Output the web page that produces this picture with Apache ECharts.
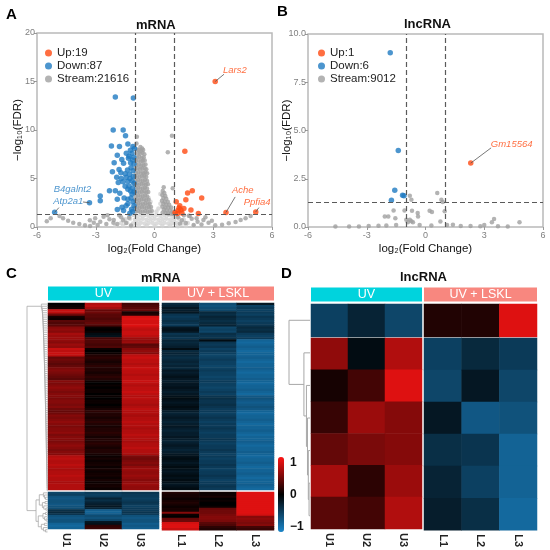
<!DOCTYPE html>
<html><head><meta charset="utf-8">
<script src="https://cdn.jsdelivr.net/npm/echarts@6/dist/echarts.min.js"></script>
<style>html,body{margin:0;padding:0;background:#fff}#c{width:550px;height:550px}</style>
</head><body><div id="c"></div>
<script>
// ---------------- Volcano A (mRNA) ----------------
const upA = [[3.1,15.0],[1.55,7.8],[1.11,2.6],[1.6,2.8],[1.69,3.5],[1.93,3.75],[2.41,3.0],[1.29,2.2],[1.5,1.9],[1.2,1.7],[1.35,1.75],[1.86,1.75],[2.24,1.4],[1.17,1.4],[1.4,1.45],[1.05,1.5],[1.25,1.95],[3.65,1.5],[5.17,1.55]];
const downA = [[-2.0,13.4],[-1.08,13.3],[-2.11,10.0],[-1.6,10.0],[-1.48,9.4],[-2.2,8.35],[-1.79,8.3],[-1.36,8.56],[-1.23,7.9],[-1.02,8.1],[-1.1,8.3],[-1.15,7.6],
 [-1.9,7.4],[-1.44,7.6],[-1.3,7.3],[-1.67,6.97],[-1.33,7.08],[-1.06,7.2],[-1.12,6.9],[-2.06,6.63],[-1.58,6.56],[-1.22,6.63],[-1.05,6.5],[-1.81,5.94],[-2.15,5.7],[-1.38,5.88],[-1.2,6.1],[-1.1,5.8],[-1.72,5.6],[-1.5,5.5],[-1.28,5.45],
 [-1.93,5.12],[-1.7,5.0],[-1.45,5.1],[-1.25,5.0],[-1.08,5.2],[-1.61,4.67],[-1.36,4.7],[-1.15,4.75],[-1.85,4.6],[-1.05,4.5],[-1.5,4.2],[-1.3,4.2],[-1.12,4.0],[-2.3,3.74],[-2.0,3.74],[-1.36,3.88],[-1.22,3.7],[-1.77,3.47],[-1.15,3.4],[-1.05,3.6],
 [-1.9,2.85],[-1.36,2.85],[-1.55,3.0],[-1.2,3.0],[-1.1,2.6],[-2.77,3.2],[-2.77,2.71],[-3.32,2.5],[-1.36,2.4],[-1.66,2.03],[-1.17,1.82],[-1.58,1.7],[-1.26,1.41],[-1.05,2.2],[-1.45,2.2],[-1.12,1.6],[-1.9,1.8],[-5.1,1.51]];
const streamA = [[-0.9,9.3],[-0.92,8.6],[-0.88,8.0],[0.89,9.4],[0.68,7.7],[0.93,4.0],
 [-0.72,8.25],[-0.63,8.1],[-0.8,7.9],[-0.68,7.85],[-0.58,7.95],[-0.85,7.6],[-0.75,7.55],[-0.62,7.65],[-0.52,7.5],[-0.9,7.2],[-0.78,7.25],[-0.66,7.15],[-0.55,7.2],
 [-0.95,6.8],[-0.82,6.85],[-0.7,6.75],[-0.6,6.8],[-0.5,6.85],[-0.92,6.4],[-0.8,6.45],[-0.68,6.35],[-0.56,6.4],[-0.46,6.45],
 [-0.98,6.0],[-0.86,6.05],[-0.74,5.95],[-0.62,6.0],[-0.5,6.05],[-0.42,5.95],[-0.95,5.6],[-0.83,5.65],[-0.7,5.55],[-0.58,5.6],[-0.47,5.65],[-0.38,5.55],
 [-1.0,5.2],[-0.88,5.25],[-0.76,5.15],[-0.64,5.2],[-0.52,5.25],[-0.42,5.15],[-0.96,4.8],[-0.84,4.85],[-0.72,4.75],[-0.6,4.8],[-0.49,4.85],[-0.38,4.75],
 [-1.0,4.4],[-0.9,4.45],[-0.78,4.35],[-0.66,4.4],[-0.55,4.45],[-0.44,4.35],[-0.34,4.4],[-0.95,4.0],[-0.84,4.05],[-0.72,3.95],[-0.6,4.0],[-0.49,4.05],[-0.38,3.95],
 [-1.0,3.6],[-0.88,3.65],[-0.76,3.55],[-0.64,3.6],[-0.53,3.65],[-0.42,3.55],[-0.32,3.6],[-0.96,3.2],[-0.84,3.25],[-0.72,3.15],[-0.6,3.2],[-0.48,3.25],[-0.37,3.15],
 [-1.0,2.8],[-0.9,2.85],[-0.78,2.75],[-0.66,2.8],[-0.54,2.85],[-0.43,2.75],[-0.3,2.8],[-0.95,2.4],[-0.83,2.45],[-0.71,2.35],[-0.59,2.4],[-0.47,2.45],[-0.35,2.35],[-0.25,2.4],
 [-1.0,2.0],[-0.88,2.05],[-0.76,1.95],[-0.64,2.0],[-0.52,2.05],[-0.4,1.95],[-0.28,2.0],[-0.18,2.05],[-0.96,1.6],[-0.84,1.65],[-0.72,1.55],[-0.6,1.6],[-0.48,1.65],[-0.36,1.55],[-0.24,1.6],[-0.14,1.65],
 [0.47,4.1],[0.42,3.7],[0.5,3.5],[0.4,3.3],[0.55,3.2],[0.45,3.0],[0.6,2.9],[0.38,2.7],[0.52,2.6],[0.68,2.6],[0.45,2.4],[0.6,2.3],[0.75,2.3],[0.4,2.1],[0.55,2.0],[0.7,2.0],[0.85,2.0],
 [0.48,1.8],[0.62,1.7],[0.78,1.7],[0.92,1.6],[0.42,1.5],[0.56,1.45],[0.7,1.4],[0.84,1.4],[0.96,1.35],
 [-4.85,1.13],[-4.67,0.9],[-4.41,0.65],[-4.15,0.45],[-3.84,0.31],[-3.55,0.17],[-3.29,0.1],[-5.3,0.9],[-5.5,0.6],
 [-3.03,0.9],[-2.77,0.55],[-2.46,0.3],[-2.08,0.72],[-3.3,0.7],[-2.6,1.05],[-2.3,0.8],[-2.1,0.45],[-1.9,0.3],[-1.7,1.0],[-1.6,0.7],[-1.45,0.4],[-1.3,0.95],[-1.2,0.15],[-2.9,0.2],[-3.1,0.45],[-1.8,1.2],[-2.4,1.2],
 [1.2,1.0],[1.4,0.7],[1.6,0.4],[1.9,0.85],[2.2,0.55],[2.4,0.25],[1.5,1.2],[2.6,1.0],[2.0,0.2],[1.75,1.15],[2.15,0.9],[1.3,0.35],
 [4.91,1.13],[4.65,0.9],[4.4,0.72],[4.14,0.52],[3.79,0.38],[3.45,0.24],[3.1,0.17],[2.76,0.45],[2.5,0.72],[2.93,0.65],[1.8,1.13]];
const streamAFaint = [[-1.3,1.2],[-1.1,1.25],[-0.9,1.15],[-0.7,1.2],[-0.5,1.25],[-0.3,1.15],[-0.1,1.2],[0.1,1.25],[0.3,1.15],[0.5,1.2],[0.7,1.25],[0.9,1.15],[1.1,1.2],
 [-1.5,0.8],[-1.25,0.85],[-1.0,0.75],[-0.8,0.8],[-0.6,0.85],[-0.4,0.75],[-0.2,0.8],[0.0,0.85],[0.2,0.75],[0.4,0.8],[0.6,0.85],[0.8,0.75],[1.0,0.8],[1.25,0.85],[1.5,0.75],
 [-1.7,0.4],[-1.4,0.45],[-1.1,0.35],[-0.9,0.4],[-0.7,0.45],[-0.5,0.35],[-0.3,0.4],[-0.1,0.45],[0.1,0.35],[0.3,0.4],[0.5,0.45],[0.7,0.35],[0.9,0.4],[1.1,0.45],[1.4,0.35],[1.7,0.4],
 [-2.0,0.1],[-1.6,0.12],[-1.2,0.08],[-0.8,0.1],[-0.4,0.12],[0.0,0.08],[0.4,0.1],[0.8,0.12],[1.2,0.08],[1.6,0.1],[2.0,0.12],
 [-0.3,3.0],[-0.2,2.6],[0.3,3.4],[0.3,2.4],[0.2,1.9],[0.1,1.6],[-0.6,7.0],[-0.7,6.2],[-0.55,5.4]];
const genesA = ['Lars2','Ache','Ppfia4','B4galnt2','Atp2a1'];
const geneGroupA = ['up','up','up','down','down'];
const geneTextA = [[4.1,16.1],[4.51,3.81],[5.24,2.55],[-4.19,3.89],[-4.4,2.61]];
const geneLinkA = [[[3.1,15.0],[3.55,15.75]],[[3.65,1.5],[4.12,3.1]],[[5.17,1.55],[5.33,2.0]],[[-5.1,1.51],[-4.88,2.0]],[[-3.32,2.5],[-3.65,2.58]]];
const legendA = ['Up:19','Down:87','Stream:21616'];

// ---------------- Volcano B (lncRNA) ----------------
const upB = [[2.31,3.31]];
const downB = [[-1.8,9.03],[-1.39,3.97],[-1.57,1.9],[-1.74,1.38],[-1.17,1.64],[-1.1,1.62]];
const streamB = [[-0.8,1.62],[-0.72,1.41],[0.6,1.76],[0.81,1.41],[0.88,1.3],[-1.63,0.86],[-1.07,0.86],[-0.69,0.84],[-2.08,0.55],[-1.9,0.55],[-1.54,0.45],[-0.98,0.38],[-0.8,0.38],[-0.72,0.3],
 [-0.38,0.55],[-0.4,0.72],[0.21,0.84],[0.33,0.78],[0.98,0.81],[0.76,0.29],[-0.9,0.25],[-0.64,0.25],[3.39,0.24],[3.5,0.41],[4.8,0.24],
 [-4.6,0.03],[-3.9,0.03],[-3.4,0.03],[-2.9,0.05],[-2.4,0.07],[-2.0,0.08],[-1.5,0.1],[-0.3,0.1],[0.3,0.08],[1.1,0.1],[1.4,0.12],[1.8,0.05],[2.3,0.05],[2.8,0.04],[3.7,0.04],[4.2,0.03],[3.0,0.1]];
const genesB = ['Gm15564'];
const geneGroupB = ['up'];
const geneTextB = [[4.4,4.3]];
const geneLinkB = [[[2.31,3.31],[3.35,4.1]]];
const legendB = ['Up:1','Down:6','Stream:9012'];

// ---------------- Heatmap C (mRNA) ----------------
const samplesU = ['U1','U2','U3'];
const samplesL = ['L1','L2','L3'];
const groupNames = ['UV','UV + LSKL'];
const mTopU1 = [0.0,0.05,0.1,0.9,0.85,0.5,0.1,0.05,0.4,0.35,0.4,0.6,0.65,0.6,0.75,0.7,0.7,0.65,0.6,0.7,0.65,0.9,0.85,0.9,0.85,0.45,0.5,0.45,0.4,0.45,0.55,0.6,0.55,0.5,0.45,0.4,
 0.6,0.55,0.6,0.65,0.6,0.55,0.6,0.6,0.55,0.6,0.6,0.55,0.6,0.5,0.45,0.5,
 0.6,0.55,0.6,0.65,0.6,0.55,0.6,0.6,0.65,0.55,0.6,0.6,0.55,0.6,0.65,0.6,0.55,0.6,0.6,
 0.8,0.85,0.8,0.8,0.85,0.8,0.75,0.8,0.8,0.85,0.8,0.8,0.75,0.8,0.8,0.8];
const mTopU2 = [0.8,0.85,0.75,0.45,0.5,0.4,0.4,0.35,0.4,0.45,0.35,0.05,0.0,0.05,-0.1,-0.15,0.3,0.35,0.35,0.3,0.35,0.05,0.0,0.05,
 0.15,0.2,0.15,0.1,0.15,0.2,0.15,0.15,0.1,0.15,0.2,0.15,0.05,0.0,0.05,0.0,0.05,0.05,0.0,0.05,0.0,0.05,0.05,0.0,0.05,0.1,
 0.2,0.15,0.15,0.1,0.15,0.2,0.15,0.1,0.15,0.15,0.2,0.15,0.1,0.15,0.15,0.2,0.15,0.1,0.15,0.15,0.1,
 0.05,0.1,0.05,0.08,0.1,0.05,0.1,0.05,0.08,0.1,0.05,0.1,0.05,0.08,0.1,0.05];
const mTopU3 = [0.3,0.35,0.4,0.45,0.1,0.15,0.95,1.0,0.95,0.95,1.0,0.9,0.85,0.9,0.9,0.85,0.7,0.65,0.7,0.4,0.45,0.6,0.65,0.6,
 0.85,0.9,0.85,0.85,0.8,0.85,0.9,0.85,0.85,0.8,0.85,0.85,0.9,0.85,0.8,0.85,0.85,0.9,0.85,
 0.8,0.85,0.8,0.8,0.75,0.8,0.85,0.8,0.8,0.75,0.8,0.8,0.85,0.8,0.8,0.75,0.8,0.8,0.85,0.8,0.8,0.75,0.8,0.8,0.85,0.8,0.8,0.75,
 0.55,0.5,0.55,0.6,0.55,0.65,0.7,0.65,0.65,0.7,0.65,0.6,0.65,0.7,0.65,0.65];
const mTopL1 = [-0.35,-0.3,-0.2,-0.25,-0.2,-0.45,-0.5,-0.45,-0.4,-0.45,-0.5,-0.2,-0.15,-0.2,-0.45,-0.4,-0.45,-0.3,-0.35,-0.3,-0.25,-0.1,
 -0.35,-0.3,-0.35,-0.4,-0.35,-0.3,-0.35,-0.3,-0.35,-0.2,-0.25,-0.2,-0.15,-0.2,-0.25,-0.2,-0.2,-0.15,-0.2,-0.25,-0.2,
 -0.15,-0.1,-0.15,-0.2,-0.15,-0.1,-0.15,
 -0.25,-0.3,-0.25,-0.2,-0.25,-0.3,-0.25,-0.2,-0.25,-0.3,-0.25,-0.25,-0.2,-0.25,-0.3,-0.25,-0.2,-0.25,-0.3,-0.25,-0.2,
 -0.15,-0.1,-0.15,-0.2,-0.15,-0.1,-0.15,-0.2,-0.15,-0.1,-0.15,-0.1,-0.15,-0.2,-0.15,-0.1];
const mTopL2 = [-0.65,-0.7,-0.65,-0.6,-0.35,-0.4,-0.3,-0.35,-0.4,-0.35,-0.3,-0.6,-0.55,-0.6,-0.4,-0.45,-0.4,-0.1,-0.45,-0.5,-0.45,
 -0.55,-0.5,-0.55,-0.6,-0.55,-0.5,-0.55,-0.55,-0.6,-0.55,-0.5,-0.55,-0.55,-0.6,-0.55,-0.5,-0.55,-0.55,-0.6,-0.55,-0.5,-0.55,
 -0.45,-0.4,-0.45,-0.45,-0.4,-0.45,-0.5,
 -0.5,-0.55,-0.5,-0.45,-0.5,-0.55,-0.5,-0.5,-0.45,-0.5,-0.55,-0.5,-0.5,-0.45,-0.5,-0.55,-0.5,-0.5,-0.45,-0.5,-0.55,
 -0.5,-0.55,-0.5,-0.5,-0.45,-0.5,-0.55,-0.5,-0.5,-0.45,-0.5,-0.55,-0.5,-0.5,-0.45,-0.5];
const mTopL3 = [-0.2,-0.55,-0.5,-0.55,-0.5,-0.55,-0.45,-0.5,-0.55,-0.5,-0.45,-0.35,-0.4,-0.35,-0.5,-0.55,-0.5,
 -0.85,-0.9,-0.85,-0.8,-0.85,-0.9,-0.85,-0.85,-0.8,-0.85,-0.9,-0.85,-0.85,-0.8,-0.85,-0.9,-0.85,-0.85,-0.8,-0.85,-0.9,-0.85,-0.85,-0.8,-0.85,-0.9,
 -0.75,-0.7,-0.75,-0.8,-0.75,-0.7,-0.75,
 -0.85,-0.9,-0.85,-0.85,-0.8,-0.85,-0.9,-0.85,-0.85,-0.8,-0.85,-0.9,-0.85,-0.85,-0.8,-0.85,-0.9,-0.85,-0.85,-0.8,-0.85,-0.9,-0.85,-0.85,-0.8,-0.85,-0.9,-0.85,-0.85,-0.8,-0.85,-0.9,-0.85,-0.85,-0.8,-0.85,-0.9];
const mBotU1 = [-0.6,-0.55,-0.7,-0.75,-0.7,-0.7,-0.75,-0.7,-0.65,-0.4,-0.35,-0.45,-0.7,-0.75,-0.7,-0.7,-0.85,-0.9,-0.85];
const mBotU2 = [-0.5,-0.55,-0.5,-0.3,-0.4,-0.3,-0.25,-0.2,-0.3,-0.8,-0.85,-0.75,-0.65,-0.7,-0.6,-0.2,-0.15,0.2,0.25];
const mBotU3 = [-0.45,-0.5,-0.5,-0.55,-0.5,-0.45,-0.5,-0.55,-0.5,-0.5,-0.45,-0.5,-0.7,-0.75,-0.7,-0.7,-0.8,-0.75,-0.8];
const mBotL1 = [0.15,0.1,0.1,0.05,0.1,0.15,0.1,0.05,0.1,0.1,0.6,0.05,0.0,0.45,0.5,0.95,1.0,1.0,0.9];
const mBotL2 = [0.05,0.05,0.1,0.0,0.05,0.0,0.0,0.05,0.45,0.5,0.5,0.55,0.6,0.6,0.55,0.4,0.35,0.2,0.15];
const mBotL3 = [1.0,1.0,1.0,1.0,1.0,1.0,1.0,1.0,1.0,1.0,1.0,0.95,0.6,0.65,0.6,0.55,0.6,0.3,0.25];
// dendrogram C: caterpillar merge heights for the top cluster + nested bottom cluster
const chainHeightsC = [3.0,2.7,2.55,2.45,2.4,2.32,2.25,2.2,2.16,2.1,2.05,2.0,1.97,1.93,1.9,1.86,1.82,1.8,1.76,1.72,
 1.7,1.66,1.62,1.6,1.57,1.53,1.5,1.47,1.44,1.42,1.39,1.36,1.33,1.3,1.28,1.25,1.22,1.2,1.17,1.14,
 1.12,1.09,1.07,1.04,1.02,0.99,0.97,0.95,0.92,0.9,0.88,0.85,0.83,0.81,0.79,0.76,0.74,0.72,0.7,0.68,
 0.66,0.64,0.62,0.6,0.58,0.56,0.54,0.52,0.5,0.48,0.46,0.44,0.42,0.4,0.38,0.36,0.34,0.32,0.3,0.28,0.26,0.24,0.22,0.2,0.18,0.15];
const bottomTreeC = [5.6,[4.0,[2.0,87,[1.5,88,[1.0,89,90]]],[2.5,[1.2,91,92],[1.8,93,[0.8,94,95]]]],[4.5,[2.2,[1.0,96,97],[1.4,98,[0.7,99,100]]],[3.0,[1.5,101,102],[2.0,103,[1.0,104,105]]]]];
const rootHeightC = 10;

// ---------------- Heatmap D (lncRNA) ----------------
const lncTopU = [-0.55,-0.3,-0.6];
const lncTopL = [0.15,0.15,1.0];
const lncU1 = [0.65,0.1,0.25,0.45,0.75,0.4];
const lncU2 = [-0.1,0.3,0.7,0.55,0.2,0.3];
const lncU3 = [0.8,1.0,0.6,0.6,0.7,0.8];
const lncL1 = [-0.55,-0.6,-0.2,-0.4,-0.3,-0.25];
const lncL2 = [-0.35,-0.2,-0.75,-0.45,-0.55,-0.4];
const lncL3 = [-0.5,-0.6,-0.7,-0.85,-0.85,-0.9];
const treeD = [10,0,[2.9,1,[1.7,2,[1.2,3,[0.8,4,[0.45,5,6]]]]]];
const colorTicks = [-1,0,1];

// ---------------- helpers ----------------
const FONT = 'Liberation Sans, Arial, sans-serif';
const C_UP = '#FF4A12', C_DOWN = '#1F7BC2', C_GRAY = '#a0a0a0', C_FAINT = '#d3d3d3';
function cells(cols){ const d=[]; cols.forEach((col,c)=>col.forEach((v,r)=>d.push([c,r,v]))); return d; }
function chain(leaves, heights){ let n = leaves[leaves.length-1]; for(let k=leaves.length-2;k>=0;k--) n=[heights[Math.min(k,heights.length-1)], leaves[k], n]; return n; }
function dendro(node, segs){
  if (typeof node === 'number') return {y:node, h:0};
  const a = dendro(node[1], segs), b = dendro(node[2], segs), h = node[0];
  segs.push({coords:[[a.h,a.y],[h,a.y],[h,b.y],[b.h,b.y]]});
  return {y:(a.y+b.y)/2, h:h};
}
function textW(t, font){ const c=document.createElement('canvas').getContext('2d'); c.font=font; return c.measureText(t).width; }

const topLeavesC = mTopU1.map((_,i)=>i);
const treeC = [rootHeightC, chain(topLeavesC, chainHeightsC), bottomTreeC];
const segsC = []; dendro(treeC, segsC);
const segsD = []; dendro(treeD, segsD);
const nRowsC = mTopU1.length + mBotU1.length;

// ---------------- layout ----------------
const grids = [
  {left:37, top:33, width:235, height:194},   //0 A
  {left:308, top:34, width:235, height:193},  //1 B
  {left:48, top:303, width:111, height:187},  //2 C TL
  {left:162, top:303, width:112, height:187}, //3 C TR
  {left:48, top:492, width:111, height:41},   //4 C BL
  {left:162, top:492, width:112, height:41},  //5 C BR
  {left:311, top:304, width:111, height:33},  //6 D TL
  {left:424, top:304, width:113, height:33},  //7 D TR
  {left:311, top:338, width:111, height:194}, //8 D BL
  {left:424, top:338, width:113, height:194}, //9 D BR
  {left:27, top:303, width:20.5, height:230}, //10 C dendro
  {left:289, top:304, width:21, height:228},  //11 D dendro
  {left:278, top:463, width:6, height:64}     //12 colorbar labels
];
grids[0].show = grids[1].show = true;
grids[0].borderColor = grids[1].borderColor = '#b9b9b9';
grids[0].borderWidth = grids[1].borderWidth = 1.5;

const hidden = {axisLine:{show:false, onZero:false}, axisTick:{show:false}, axisLabel:{show:false}, splitLine:{show:false}};
function volX(gi){ return {type:'value', gridIndex:gi, min:-6, max:6, interval:3, splitLine:{show:false}, axisLine:{show:false, onZero:false},
  axisTick:{show:true, length:3, lineStyle:{color:'#9a9a9a'}}, axisLabel:{color:'#808080', fontSize:9, margin:4},
  name:'log\u2082(Fold Change)', nameLocation:'middle', nameGap:16, nameMoveOverlap:false, nameTextStyle:{fontSize:11.5, color:'#111'}}; }
function volY(gi, max, interval, fmt, gap){ return {type:'value', gridIndex:gi, min:0, max:max, interval:interval, splitLine:{show:false}, axisLine:{show:false, onZero:false},
  axisTick:{show:true, length:3, lineStyle:{color:'#9a9a9a'}}, axisLabel:{color:'#808080', fontSize:9, margin:2, formatter:fmt},
  name:'\u2212log\u2081\u2080(FDR)', nameLocation:'middle', nameGap:gap, nameRotate:90, nameMoveOverlap:false, nameTextStyle:{fontSize:11.5, color:'#111'}}; }
function catX(gi, data, showLabels){ return Object.assign({type:'category', gridIndex:gi, data:data}, hidden,
  showLabels ? {axisLabel:{show:true, rotate:-90, margin:4, fontSize:11, fontWeight:'bold', color:'#222'}} : {}); }
function catY(gi, n){ return Object.assign({type:'category', gridIndex:gi, inverse:true, data:Array.from({length:n},(_, i)=>String(i))}, hidden); }
function annX(gi, name, color, w){ return {type:'category', gridIndex:gi, position:'top', data:[name], axisLine:{show:false}, axisTick:{show:false}, splitLine:{show:false},
  axisLabel:{show:true, interval:0, margin:2, formatter:v=>'{a|'+v+'}', rich:{a:{width:w, height:14, lineHeight:15, backgroundColor:color, color:'#fff', align:'center', verticalAlign:'middle', fontSize:12.5, fontFamily:FONT}}}}; }

const xAxis = [
  volX(0), volX(1),
  catX(2,samplesU,false), catX(3,samplesL,false), catX(4,samplesU,true), catX(5,samplesL,true),
  catX(6,samplesU,false), catX(7,samplesL,false), catX(8,samplesU,true), catX(9,samplesL,true),
  Object.assign({type:'value', gridIndex:10, min:0, max:rootHeightC, inverse:true}, hidden),
  Object.assign({type:'value', gridIndex:11, min:0, max:10, inverse:true}, hidden),
  Object.assign({type:'value', gridIndex:12, min:0, max:1}, hidden),
  annX(2, groupNames[0], '#00D3DD', 111), annX(3, groupNames[1], '#F8877F', 112),
  annX(6, groupNames[0], '#00D3DD', 111), annX(7, groupNames[1], '#F8877F', 113)
];
const yAxis = [
  volY(0, 20, 5, v=>String(v), 13), volY(1, 10, 2.5, v=>v.toFixed(1), 15),
  catY(2, mTopU1.length), catY(3, mTopU1.length), catY(4, mBotU1.length), catY(5, mBotU1.length),
  catY(6, 1), catY(7, 1), catY(8, lncU1.length), catY(9, lncU1.length),
  Object.assign({type:'value', gridIndex:10, min:-0.5, max:nRowsC-0.5, inverse:true}, hidden),
  Object.assign({type:'value', gridIndex:11, min:-0.5, max:lncU1.length+0.5, inverse:true}, hidden),
  {type:'value', gridIndex:12, min:-1, max:1, interval:1, position:'right', axisLine:{show:false, onZero:false}, axisTick:{show:false}, splitLine:{show:false},
   axisLabel:{show:true, margin:6, fontSize:12, fontWeight:'bold', color:'#111', formatter:v=>colorTicks.indexOf(v)>=0 ? (v<0?'\u2212'+Math.abs(v):String(v)) : ''}}
];

const series = [];
function volcano(gi, up, down, stream, faint, names, genes, groups, textPos, links){
  series.push({type:'scatter', name:names[2], xAxisIndex:gi, yAxisIndex:gi, data:stream, symbolSize:4.5, itemStyle:{color:C_GRAY}, z:2, silent:true});
  if (faint) series.push({type:'scatter', name:names[2], xAxisIndex:gi, yAxisIndex:gi, data:faint, symbolSize:4.5, itemStyle:{color:C_FAINT}, z:1, silent:true});
  series.push({type:'scatter', name:names[1], xAxisIndex:gi, yAxisIndex:gi, data:down, symbolSize:5.5, itemStyle:{color:C_DOWN}, z:3, silent:true});
  series.push({type:'scatter', name:names[0], xAxisIndex:gi, yAxisIndex:gi, data:up, symbolSize:5.5, itemStyle:{color:C_UP}, z:3, silent:true,
    markLine:{silent:true, symbol:'none', label:{show:false}, lineStyle:{color:'#5a5a5a', type:[5,3], width:1.2},
      data:[{xAxis:-1},{xAxis:1},{yAxis:-Math.log10(0.05)}]}});
  series.push({type:'lines', coordinateSystem:'cartesian2d', xAxisIndex:gi, yAxisIndex:gi, silent:true, z:4,
    lineStyle:{color:'#555', width:0.8, opacity:1}, data:links.map(l=>({coords:l}))});
  series.push({type:'scatter', xAxisIndex:gi, yAxisIndex:gi, symbolSize:1, silent:true, z:5, itemStyle:{color:'rgba(0,0,0,0)'},
    label:{show:true, position:'inside', fontStyle:'italic', fontSize:9.5, fontFamily:FONT},
    data:genes.map((g,i)=>({value:textPos[i], label:{formatter:g, color: groups[i]==='up'?C_UP:C_DOWN}}))});
}
volcano(0, upA, downA, streamA, streamAFaint, legendA, genesA, geneGroupA, geneTextA, geneLinkA);
volcano(1, upB, downB, streamB, null, legendB, genesB, geneGroupB, geneTextB, geneLinkB);

const heatIdx = [];
function heat(gi, cols){ heatIdx.push(series.length); series.push({type:'heatmap', xAxisIndex:gi, yAxisIndex:gi, data:cells(cols), silent:true, itemStyle:{borderWidth:0}, progressive:0}); }
heat(2, [mTopU1,mTopU2,mTopU3]); heat(3, [mTopL1,mTopL2,mTopL3]);
heat(4, [mBotU1,mBotU2,mBotU3]); heat(5, [mBotL1,mBotL2,mBotL3]);
heat(6, [[lncTopU[0]],[lncTopU[1]],[lncTopU[2]]]); heat(7, [[lncTopL[0]],[lncTopL[1]],[lncTopL[2]]]);
heat(8, [lncU1,lncU2,lncU3]); heat(9, [lncL1,lncL2,lncL3]);

series.push({type:'lines', coordinateSystem:'cartesian2d', xAxisIndex:10, yAxisIndex:10, polyline:true, silent:true, lineStyle:{color:'#a8a8a8', width:0.8, opacity:1}, data:segsC});
series.push({type:'lines', coordinateSystem:'cartesian2d', xAxisIndex:11, yAxisIndex:11, polyline:true, silent:true, lineStyle:{color:'#a8a8a8', width:1, opacity:1}, data:segsD});
series.push({type:'scatter', xAxisIndex:12, yAxisIndex:12, data:[], silent:true});

const tFont = 'bold 13px Liberation Sans';
function centered(text, cx, top){ return {text:text, left:Math.round(cx - textW(text, tFont)/2), top:top, padding:0, textStyle:{fontSize:13, fontWeight:'bold', color:'#111', fontFamily:FONT}}; }
const letter = (t,l,tp)=>({text:t, left:l, top:tp, padding:0, textStyle:{fontSize:15, fontWeight:'bold', color:'#000', fontFamily:FONT}});

const legendCommon = {orient:'vertical', icon:'circle', itemWidth:7, itemHeight:7, itemGap:1, padding:0, selectedMode:false,
  textStyle:{fontSize:11.5, color:'#222', lineHeight:12, fontFamily:FONT}};

const option = {
  animation:false,
  textStyle:{fontFamily:FONT},
  title:[letter('A',6,7), letter('B',277,4), letter('C',6,266), letter('D',281,266),
    centered('mRNA',156,19), centered('lncRNA',427,18), centered('mRNA',161,272), centered('lncRNA',423,271)],
  legend:[Object.assign({data:legendA, left:45, top:47}, legendCommon), Object.assign({data:legendB, left:318, top:47}, legendCommon)],
  grid:grids, xAxis:xAxis, yAxis:yAxis,
  visualMap:{type:'continuous', min:-1.15, max:1.15, seriesIndex:heatIdx, calculable:false, show:true, left:278, top:457, itemWidth:6, itemHeight:75, padding:0,
    inRange:{color:['#1A86CA','#000000','#FF1414']}},
  series:series
};
const chart = echarts.init(document.getElementById('c'), null, {renderer:'canvas'});
chart.setOption(option);
</script></body></html>
